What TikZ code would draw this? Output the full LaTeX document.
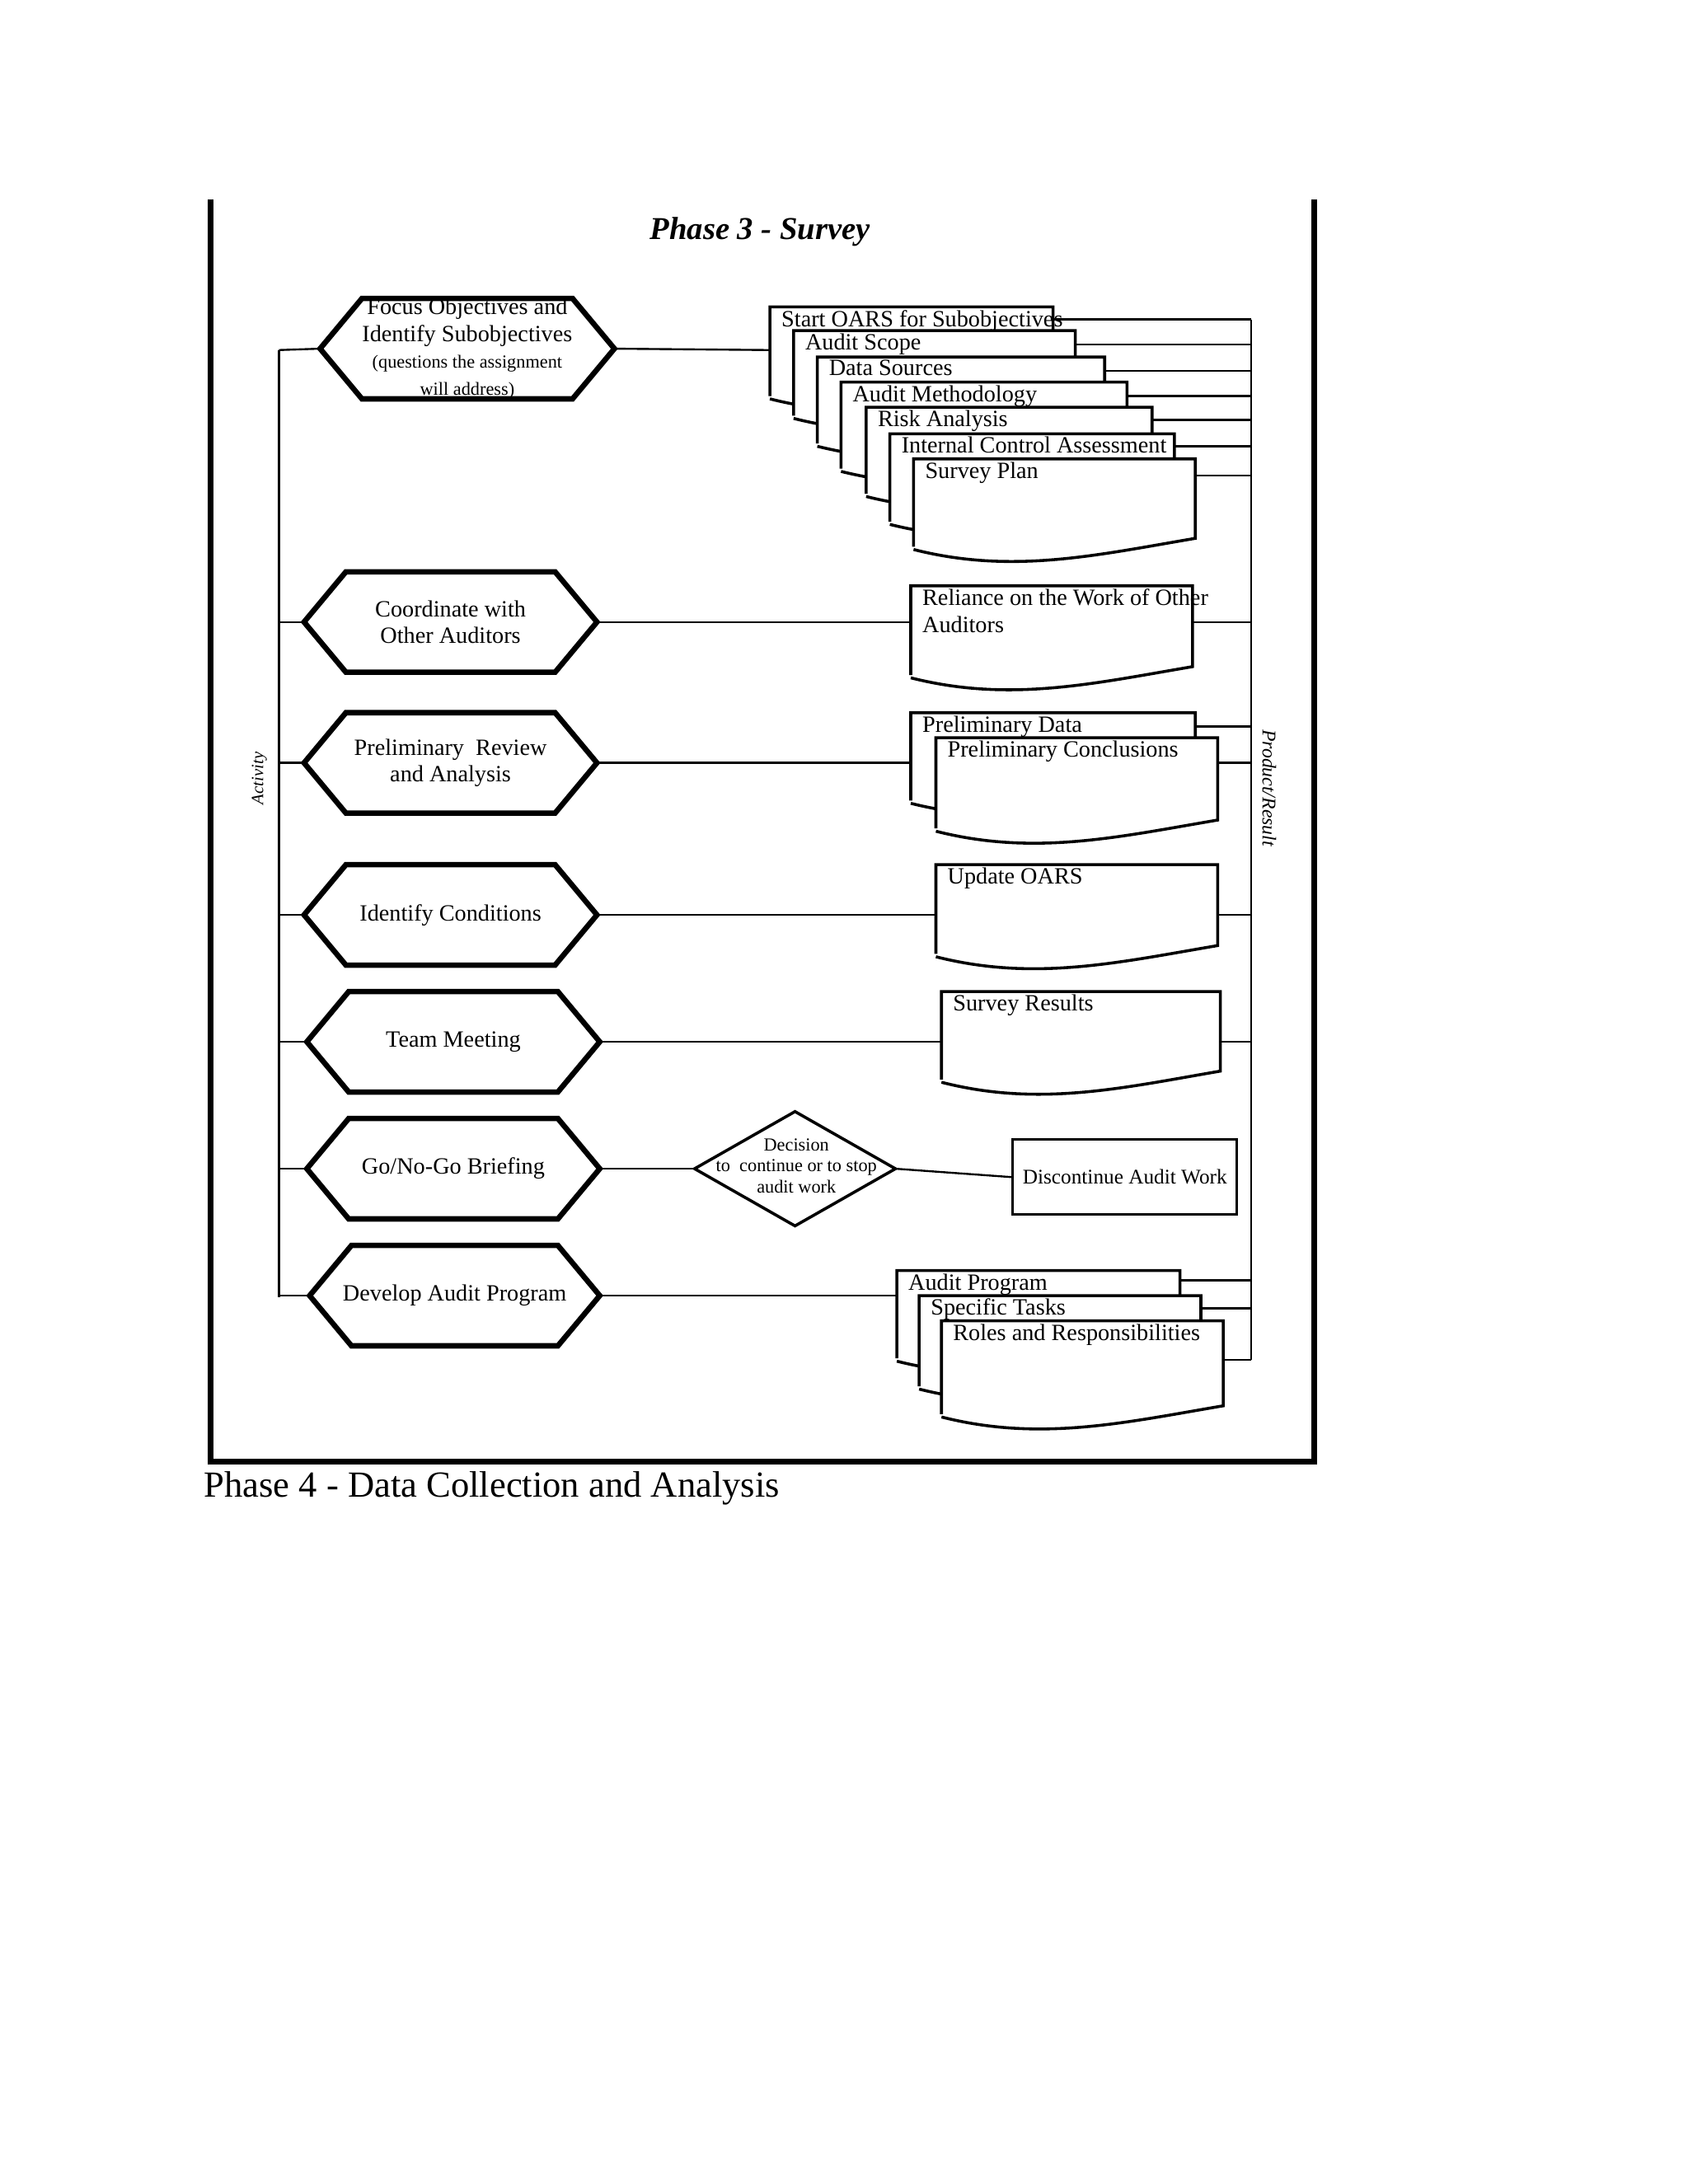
\documentclass[tikz,border=0pt]{standalone}
\usepackage{fontspec}
\setmainfont{Liberation Serif}
\begin{document}
\newcommand\hexa[5]{%
 \draw[line width=2.2pt,line join=miter] ({#1-#3/2},#2)--({#1-#3/2+30},{#2-36})--({#1+#3/2-30},{#2-36})--({#1+#3/2},#2)--({#1+#3/2-30},{#2+36})--({#1-#3/2+30},{#2+36})--cycle;
 \node[txt,align=center] (#4) at (#1,#2) {#5};
 \coordinate (#4-l) at ({#1-#3/2},#2);
 \coordinate (#4-r) at ({#1+#3/2},#2);}
% x1 y1 x2 label bottom-y
\newcommand\docpage[5]{%
 \draw[fill=white,line width=1.2pt] (#1,{#5-8}) -- (#1,#2) -- (#3,#2) -- (#3,{#5-14}) .. controls ({#3-0.35*(#3-#1)},{#5-2}) and ({#1+0.35*(#3-#1)},{#5+12}) .. (#1,{#5-6});
 \node[txt,anchor=north west,inner sep=0pt,align=left] at ({#1+8},{#2+2}) {#4};}
\begin{tikzpicture}[x=0.02cm,y=-0.02cm,
 txt/.style={font=\fontsize{9.5pt}{11pt}\selectfont},
 ln/.style={line width=0.8pt}]
\useasboundingbox (0,0) rectangle (1210,1566);
\fill[white] (0,0) rectangle (1210,1566);
% frame
\draw[line width=2.4pt] (151,143) -- (151,1048) -- (942,1048) -- (942,143);
\node[font=\fontsize{13pt}{15pt}\selectfont\bfseries\itshape] (title) at (545,166) {Phase 3 - Survey};
\node[font=\fontsize{15pt}{17pt}\selectfont,anchor=west] (cap) at (140,1067) {Phase 4 - Data Collection and Analysis};
% axes
\coordinate (at) at (200,251); \coordinate (ab) at (200,930);
\draw[ln] (at) -- (ab);
\node[rotate=90,font=\fontsize{7pt}{8pt}\selectfont\itshape] (act) at (186,558) {Activity};
\coordinate (pt) at (897,229); \coordinate (pb) at (897,975);
\draw[ln] (pt) -- (pb);
\node[rotate=-90,font=\fontsize{8pt}{9pt}\selectfont\itshape] (prod) at (910,565) {Product/Result};
% hexagons
\hexa{335}{250}{211}{h1}{Focus Objectives and\\Identify Subobjectives\\{\fontsize{7.5pt}{9pt}\selectfont(questions the assignment}\\{\fontsize{7.5pt}{9pt}\selectfont will address)}}
\hexa{323}{446}{210}{h2}{Coordinate with\\Other Auditors}
\hexa{323}{547}{210}{h3}{Preliminary\ \ Review\\and Analysis}
\hexa{323}{656}{210}{h4}{Identify Conditions}
\hexa{325}{747}{210}{h5}{Team Meeting}
\hexa{325}{838}{210}{h6}{Go/No-Go Briefing}
\hexa{326}{929}{208}{h7}{Develop Audit Program}
\foreach \h/\y in {h1/251,h2/446,h3/547,h4/656,h5/747,h6/838,h7/929}
  \draw[ln] (200,\y) -- (\h-l);
% stack 1
\docpage{552}{220}{755}{Start OARS for Subobjectives}{292}
\docpage{569}{237}{771}{Audit Scope}{306}
\docpage{586}{256}{792}{Data Sources}{326}
\docpage{603}{274}{808}{Audit Methodology}{344}
\docpage{621}{292}{826}{Risk Analysis}{362}
\docpage{638}{311}{842}{Internal Control Assessment}{382}
\docpage{655}{329}{857}{Survey Plan}{400}
\coordinate (d1) at (552,251);
\draw[ln] (h1-r) -- (d1);
\foreach \x/\y in {755/229,771/247,792/266,808/284,826/301,842/320,857/341}
  \draw[ln] (\x,\y) -- (897,\y);
% stack 2
\docpage{653}{420}{855}{Reliance on the Work of Other\\Auditors}{492}
\draw[ln] (h2-r) -- (653,446); \draw[ln] (855,446) -- (897,446);
% stack 3
\docpage{653}{511}{857}{Preliminary Data}{582}
\docpage{671}{529}{873}{Preliminary Conclusions}{602}
\draw[ln] (h3-r) -- (653,547); \draw[ln] (857,521) -- (897,521); \draw[ln] (873,547) -- (897,547);
% 4
\docpage{671}{620}{873}{Update OARS}{692}
\draw[ln] (h4-r) -- (671,656); \draw[ln] (873,656) -- (897,656);
% 5
\docpage{675}{711}{875}{Survey Results}{782}
\draw[ln] (h5-r) -- (675,747); \draw[ln] (875,747) -- (897,747);
% decision
\draw[line width=1.2pt] (498,838) -- (570,797) -- (642,838) -- (570,879) -- cycle;
\node[align=center,font=\fontsize{7.5pt}{8.5pt}\selectfont] (dec) at (571,836) {Decision\\to\ \ continue or to stop\\audit work};
\coordinate (dl) at (498,838); \coordinate (dr) at (642,838);
\node[draw,line width=1pt,minimum width=3.22cm,minimum height=1.08cm,font=\fontsize{8.5pt}{10pt}\selectfont] (disc) at (806.5,844) {Discontinue Audit Work};
\draw[ln] (h6-r) -- (dl); \draw[ln] (dr) -- (disc.west);
% 7
\docpage{643}{911}{846}{Audit Program}{982}
\docpage{659}{929}{861}{Specific Tasks}{1002}
\docpage{675}{947}{877}{Roles and Responsibilities}{1022}
\draw[ln] (h7-r) -- (643,929);
\draw[ln] (846,918) -- (897,918); \draw[ln] (861,938) -- (897,938); \draw[ln] (877,975) -- (897,975);
\end{tikzpicture}
\end{document}
